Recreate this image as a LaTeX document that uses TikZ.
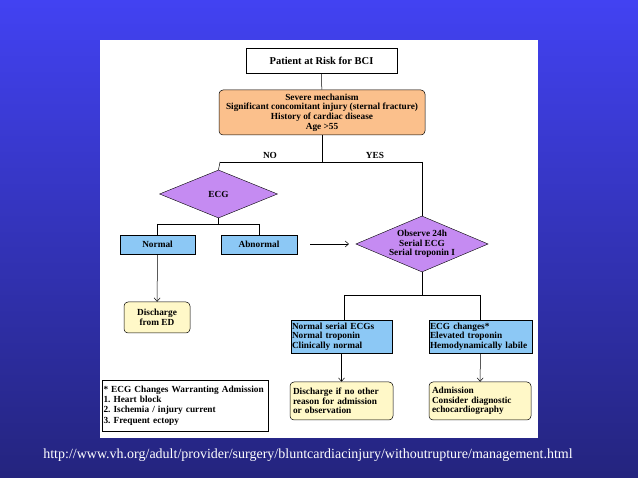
\documentclass[tikz,border=0pt]{standalone}
\usepackage{fontspec}
\setmainfont{Liberation Serif}
\usetikzlibrary{shapes.geometric,arrows.meta}
\frenchspacing
\definecolor{orng}{HTML}{FBC08C}
\definecolor{purp}{HTML}{C58BF2}
\definecolor{lblue}{HTML}{8CC8F5}
\definecolor{yel}{HTML}{FFF8C8}
\definecolor{bgtop}{HTML}{4242F2}
\definecolor{bgbot}{HTML}{24247E}
\tikzset{
  every node/.style={font=\fontsize{9.3}{9.6}\selectfont\bfseries, inner sep=1pt},
  box/.style={draw, line width=0.5pt, minimum width=#1},
  bl/.style={box=#1, fill=lblue, minimum height=19pt},
  ye/.style={box=#1, fill=yel, rounded corners=4pt},
  dia/.style={diamond, draw, fill=purp, aspect=2.4},
  ln/.style={line width=0.5pt},
  ar/.style={ln, -{Straight Barb[length=3.5pt,width=6pt]}}
}
\begin{document}
\begin{tikzpicture}[x=1pt,y=-1pt]
\useasboundingbox (0,0) rectangle (638,478);
\shade[top color=bgtop, bottom color=bgbot] (0,0) rectangle (638,478);
\fill[white] (100,40) rectangle (538,438);
\node[box=151pt, minimum height=25pt, fill=white, font=\fontsize{10.5}{11}\selectfont\bfseries] (t) at (321.5,61) {Patient at Risk for BCI};
\node[box=206pt, minimum height=45pt, fill=orng, rounded corners=4pt, align=center, inner sep=0pt] (o) at (322,112.5) {Severe mechanism\\Significant concomitant injury (sternal fracture)\\History of cardiac disease\\Age \textgreater55};
\coordinate (s) at (322,162);
\coordinate (sl) at (220,162);
\coordinate (sr) at (422,162);
\node (no) at (270,155) {NO};
\node (yes) at (375,155) {YES};
\node[dia, minimum width=118pt, minimum height=48pt] (ecg) at (218.5,194) {ECG};
\node[dia, minimum width=126pt, minimum height=56pt, align=center, inner sep=0pt] (obs) at (422,244) {Observe 24h\\Serial ECG\\Serial troponin I};
\node[bl=75pt] (n) at (157.5,244.5) {Normal};
\node[bl=76pt] (ab) at (259,244.5) {Abnormal};
\coordinate (a1) at (310,244);
\coordinate (a2) at (349,244);
\node[ye=66pt, minimum height=31pt, align=center] (d) at (157,317.5) {Discharge\\from ED};
\node[bl=101pt, minimum height=33pt, align=left, text width=99pt, inner sep=0.5pt] (ns) at (341.5,336.5) {Normal serial ECGs\\Normal troponin\\Clinically normal};
\node[bl=103pt, minimum height=33pt, align=left, text width=101pt, inner sep=0.5pt] (ec) at (480.5,336.5) {ECG changes*\\Elevated troponin\\Hemodynamically labile};
\node[ye=103pt, minimum height=38pt, align=left, text width=97pt] (dn) at (341.5,401) {Discharge if no other\\reason for admission\\or observation};
\node[ye=102pt, minimum height=38pt, align=left, text width=96pt] (ad) at (480,401) {Admission\\Consider diagnostic\\echocardiography};
\node[box=166pt, minimum height=51pt, align=left, text width=163pt, inner sep=0.5pt, font=\fontsize{9.3}{10.4}\selectfont\bfseries] (lg) at (185,405.5) {* ECG Changes Warranting Admission\\1. Heart block\\2. Ischemia / injury current\\3. Frequent ectopy};
\draw[ln] (t) -- (o);
\draw[ln] (o) -- (s);
\draw[ln] (sl) -- (sr);
\draw[ln] (sl) -- (ecg.north);
\draw[ln] (sr) -- (obs.north);
\draw[ln] (ecg.south) -- (218.5,224) coordinate (e1);
\draw[ln] (157.5,224) -- (259,224);
\draw[ln] (157.5,224) -- (n.north);
\draw[ln] (259,224) -- (ab.north);
\draw[ar] (a1) -- (a2);
\draw[ar] (n) -- (d);
\draw[ln] (obs.south) -- (422,295);
\draw[ln] (344,295) -- (480,295);
\draw[ln] (344,295) -- (ns.north -| 344,0);
\draw[ln] (480,295) -- (ec.north -| 480,0);
\draw[ar] (ns) -- (dn);
\draw[ar] (ec) -- (ad);
\node[white, font=\fontsize{14}{15}\selectfont] (url) at (308,455) {http://www.vh.org/adult/provider/surgery/bluntcardiacinjury/withoutrupture/management.html};
\end{tikzpicture}
\end{document}
